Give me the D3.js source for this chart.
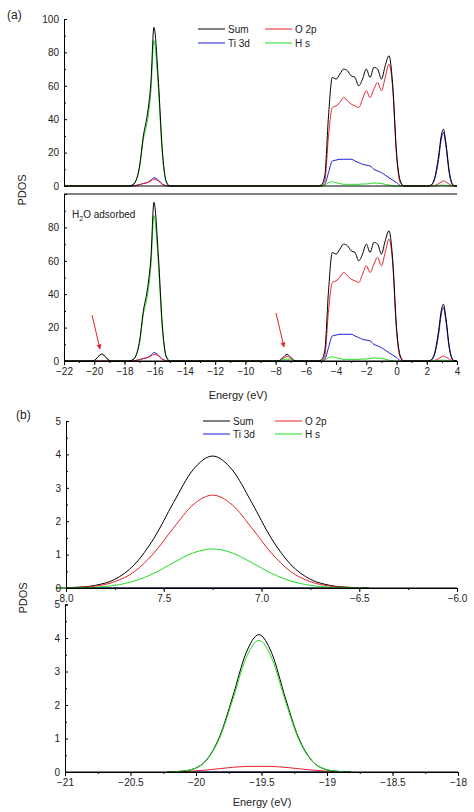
<!DOCTYPE html>
<html><head><meta charset="utf-8">
<script src="https://cdn.jsdelivr.net/npm/d3@7"></script>
<style>body{margin:0;background:#fff}text{font-family:"Liberation Sans",Arial,sans-serif}</style>
</head><body><svg id="c" width="474" height="812"></svg>
<script>
// ---- Panel (a) data (energy in eV, PDOS) ----
const energyA = [-22,-17.75,-17.5,-17.25,-17,-16.75,-16.5,-16.25,-16.05,-15.75,-15.5,-15.25,-15,
  -5.25,-5,-4.75,-4.5,-4.25,-4,-3.75,-3.5,-3.25,-3,-2.75,-2.5,-2.25,-2,-1.75,-1.5,-1.25,-1,-0.75,-0.5,-0.25,0,0.25,0.5,
  2.0,2.25,2.5,2.75,3.0,3.1,3.25,3.5,3.75,4];
const sumA  = [0,0,0.5,3,12,30,42,62,95,62,22,3,0, 0,0.5,6,42,65,64,67,70,69,66,65,60,64,70,65,71,70,64,72,78,60,20,3,0, 0,0.5,4,16,32,34,27,8,0.5,0];
const o2pA  = [0,0,0,0.3,0.8,1.5,2,3,4,3,1,0.2,0, 0,0,3,30,47,48,50,53,51,49,48,47,52,57,53,58,62,57,65,73,58,18,2,0, 0,0,0.3,1.2,2.6,3,2.5,1,0,0];
const ti3dA = [0,0,0,0.3,0.8,1.5,2,3.5,5,3.5,1.2,0.2,0, 0,0,1,8,15,15.5,16,16,16,16,15,14,13,12.5,12,10,9,8,6.5,5,3.5,2,0.3,0, 0,0.3,3.5,14,30,32,25,7,0.3,0];
const hsA   = [0,0,0.5,3,11,28,38,57,87,57,20,3,0, 0,0,0.5,2,2.5,2,1.5,1,1,1,1,1,1.2,1.2,1.5,1.8,1.7,1.5,1,0.5,0.2,0,0,0, 0,0,0.1,0.3,0.5,0.5,0.4,0.2,0,0];
// extra adsorbate peaks (bottom panel of (a))
const peakE1 = [-20.25,-20,-19.75,-19.5,-19.25,-19,-18.75];
const peakSum1 = [0,0.3,2.5,4.2,2.5,0.3,0];
const peakHs1  = [0,0.3,2.4,4.0,2.4,0.3,0];
const peakE2 = [-8.0,-7.75,-7.5,-7.25,-7.0,-6.75,-6.5];
const peakSum2 = [0,0.3,2.2,4.0,2.2,0.3,0];
const peakO2p2 = [0,0.2,1.5,2.8,1.5,0.2,0];
const peakHs2  = [0,0.1,0.6,1.2,0.6,0.1,0];
// ---- Panel (b) data ----
const energyB1 = [-8.05,-7.95,-7.85,-7.75,-7.65,-7.55,-7.45,-7.35,-7.25,-7.15,-7.05,-6.95,-6.85,-6.75,-6.65,-6.55,-6.45];
const sumB1  = [0.004,0.02,0.08,0.26,0.70,1.49,2.56,3.54,3.95,3.54,2.56,1.49,0.70,0.26,0.08,0.02,0.004];
const o2pB1  = [0.003,0.014,0.056,0.19,0.49,1.05,1.80,2.49,2.78,2.49,1.80,1.05,0.49,0.19,0.056,0.014,0.003];
const hsB1   = [0.001,0.006,0.023,0.078,0.21,0.44,0.76,1.05,1.17,1.05,0.76,0.44,0.21,0.078,0.023,0.006,0.001];
const ti3dB1 = [0,0,0,0,0,0,0,0,0,0,0,0,0,0,0,0,0];
const energyB2 = [-20.22,-20.12,-20.02,-19.92,-19.82,-19.72,-19.62,-19.52,-19.42,-19.32,-19.22,-19.12,-19.02,-18.92,-18.82];
const sumB2  = [0.003,0.02,0.09,0.36,1.05,2.24,3.53,4.1,3.53,2.24,1.05,0.36,0.09,0.02,0.003];
const hsB2   = [0.003,0.02,0.09,0.35,1.01,2.15,3.38,3.93,3.38,2.15,1.01,0.35,0.09,0.02,0.003];
const o2pB2  = [0,0.01,0.03,0.06,0.1,0.14,0.165,0.17,0.165,0.14,0.1,0.06,0.03,0.01,0];
const ti3dB2 = [0,0,0,0,0,0,0,0,0,0,0,0,0,0,0];
const ticksA = [-22,-20,-18,-16,-14,-12,-10,-8,-6,-4,-2,0,2,4];
const ticksB1 = [-8,-7.5,-7,-6.5,-6];
const ticksB1Labels = ["8.0","7.5","7.0","\u22126.5","\u22126.0"];
const ticksB2 = [-21,-20.5,-20,-19.5,-19,-18.5,-18];
const series = ["Sum","O 2p","Ti 3d","H s"];
const colors = {"Sum":"#000","O 2p":"#e8202a","Ti 3d":"#1a1ad6","H s":"#22dd22"};

const svg = d3.select("#c");
const fmtMinus = d => (d<0?"\u2212":"")+Math.abs(d);

function merge(baseE, baseY, extras){
  let pts = baseE.map((e,i)=>[e,baseY[i]]);
  extras.forEach(([E,Y])=>{
    const lo=E[0], hi=E[E.length-1];
    pts = pts.filter(p=>p[0]<lo||p[0]>hi).concat(E.map((e,i)=>[e,Y[i]]));
  });
  return pts.sort((a,b)=>a[0]-b[0]);
}

function panel(o){
  const x = d3.scaleLinear().domain(o.xd).range([o.x0,o.x1]);
  const y = d3.scaleLinear().domain(o.yd).range([o.y0,o.y1]);
  const g = svg.append("g");
  const line = d3.line().x(d=>x(d[0])).y(d=>y(d[1])).curve(d3.curveMonotoneX);
  o.order.forEach(s=>{
    g.append("path").attr("d",line(o.data[s])).attr("fill","none").attr("stroke",colors[s]).attr("stroke-width",1);
  });
  g.append("g").attr("transform",`translate(${o.x0},0)`)
    .call(d3.axisLeft(y).tickValues(o.yt).tickSize(-3).tickPadding(5).tickFormat(d3.format("d")));
  g.append("g").attr("transform",`translate(${o.x0},0)`)
    .call(d3.axisLeft(y).tickValues(o.ytm).tickSize(-2).tickFormat(""));
  g.append("line").attr("x1",o.x0).attr("x2",o.x1).attr("y1",o.y0).attr("y2",o.y0).attr("stroke","#000");
  if(o.topLine) g.append("line").attr("x1",o.x0).attr("x2",o.x1).attr("y1",o.y1).attr("y2",o.y1).attr("stroke","#000");
  if(o.xt){
    g.append("g").attr("transform",`translate(0,${o.y0})`)
      .call(d3.axisBottom(x).tickValues(o.xt).tickSize(4).tickPadding(3).tickFormat((d,i)=>o.xl?o.xl[i]:fmtMinus(d)));
    g.append("g").attr("transform",`translate(0,${o.y0})`)
      .call(d3.axisBottom(x).tickValues(o.xtm).tickSize(2).tickFormat(""));
  }
  g.selectAll(".domain").attr("stroke","#000");
  g.selectAll(".tick text").attr("font-size",10).attr("fill","#222").attr("font-family","Liberation Sans, Arial");
  return {x,y};
}
function mk(E,arrs){const d={};series.forEach((s,k)=>d[s]=E.map((e,i)=>[e,arrs[k][i]]));return d;}

const dA1 = mk(energyA,[sumA,o2pA,ti3dA,hsA]);
const dA2 = {
  "Sum": merge(energyA,sumA,[[peakE1,peakSum1],[peakE2,peakSum2]]),
  "O 2p": merge(energyA,o2pA,[[peakE2,peakO2p2]]),
  "Ti 3d": merge(energyA,ti3dA,[]),
  "H s": merge(energyA,hsA,[[peakE1,peakHs1],[peakE2,peakHs2]])
};
const minorA = d3.range(-22,4.01,1);
panel({xd:[-22,4],yd:[0,100],x0:64,x1:457,y0:186,y1:19,yt:[0,20,40,60,80,100],ytm:d3.range(10,100,20),
  data:dA1,order:["Ti 3d","O 2p","H s","Sum"]});
panel({xd:[-22,4],yd:[0,100],x0:64,x1:457,y0:361,y1:194,yt:[0,20,40,60,80],ytm:d3.range(10,100,20),topLine:true,
  data:dA2,order:["Ti 3d","O 2p","H s","Sum"],xt:ticksA,xtm:minorA});
panel({xd:[-8,-6],yd:[0,5],x0:66,x1:457,y0:588,y1:421,yt:[0,1,2,3,4,5],ytm:d3.range(0.5,5,1),
  data:mk(energyB1,[sumB1,o2pB1,ti3dB1,hsB1]),order:["Ti 3d","Sum","O 2p","H s"],xt:ticksB1,xl:ticksB1Labels,xtm:d3.range(-8,-5.99,0.25)});
panel({xd:[-21,-18],yd:[0,5],x0:65,x1:458,y0:772,y1:604.5,yt:[0,1,2,3,4,5],ytm:d3.range(0.5,5,1),
  data:mk(energyB2,[sumB2,o2pB2,ti3dB2,hsB2]),order:["Ti 3d","O 2p","Sum","H s"],xt:ticksB2,xtm:d3.range(-21,-17.99,0.25)});

function legend(x0,y0,x1,yy){
  const pos=[[x0,y0,"Sum"],[x1,y0,"O 2p"],[x0,yy,"Ti 3d"],[x1,yy,"H s"]];
  pos.forEach(([x,y,s])=>{
    svg.append("line").attr("x1",x).attr("x2",x+27).attr("y1",y).attr("y2",y).attr("stroke",colors[s]);
    svg.append("text").attr("x",x+30).attr("y",y+3.5).attr("font-size",10).attr("fill","#222").text(s);
  });
}
legend(198,29,265,43);
legend(203,421,275,434);

const t=(x,y,s,fs,extra)=>{const e=svg.append("text").attr("x",x).attr("y",y).attr("font-size",fs).attr("fill","#222").text(s);if(extra)extra(e);return e;};
t(7,19,"(a)",12);
t(16,419,"(b)",12);
t(238,399,"Energy (eV)",11,e=>e.attr("text-anchor","middle"));
t(262,806,"Energy (eV)",11,e=>e.attr("text-anchor","middle"));
t(26,190,"PDOS",11,e=>e.attr("text-anchor","middle").attr("transform","rotate(-90,26,190)"));
t(27,598,"PDOS",11,e=>e.attr("text-anchor","middle").attr("transform","rotate(-90,27,598)"));
const h=svg.append("text").attr("x",72).attr("y",218).attr("font-size",10).attr("fill","#222");
h.append("tspan").text("H");h.append("tspan").attr("font-size",7).attr("dy",3).text("2");h.append("tspan").attr("dy",-3).text("O adsorbed");

svg.append("defs").append("marker").attr("id","ah").attr("viewBox","0 0 10 10").attr("refX",9).attr("refY",5)
  .attr("markerWidth",5).attr("markerHeight",5).attr("orient","auto").append("path").attr("d","M0,0L10,5L0,10z").attr("fill","#e8202a");
[[92,315,100,349],[276,313,284,347]].forEach(a=>svg.append("line").attr("x1",a[0]).attr("y1",a[1]).attr("x2",a[2]).attr("y2",a[3])
  .attr("stroke","#e8202a").attr("stroke-width",1).attr("marker-end","url(#ah)"));
</script></body></html>
